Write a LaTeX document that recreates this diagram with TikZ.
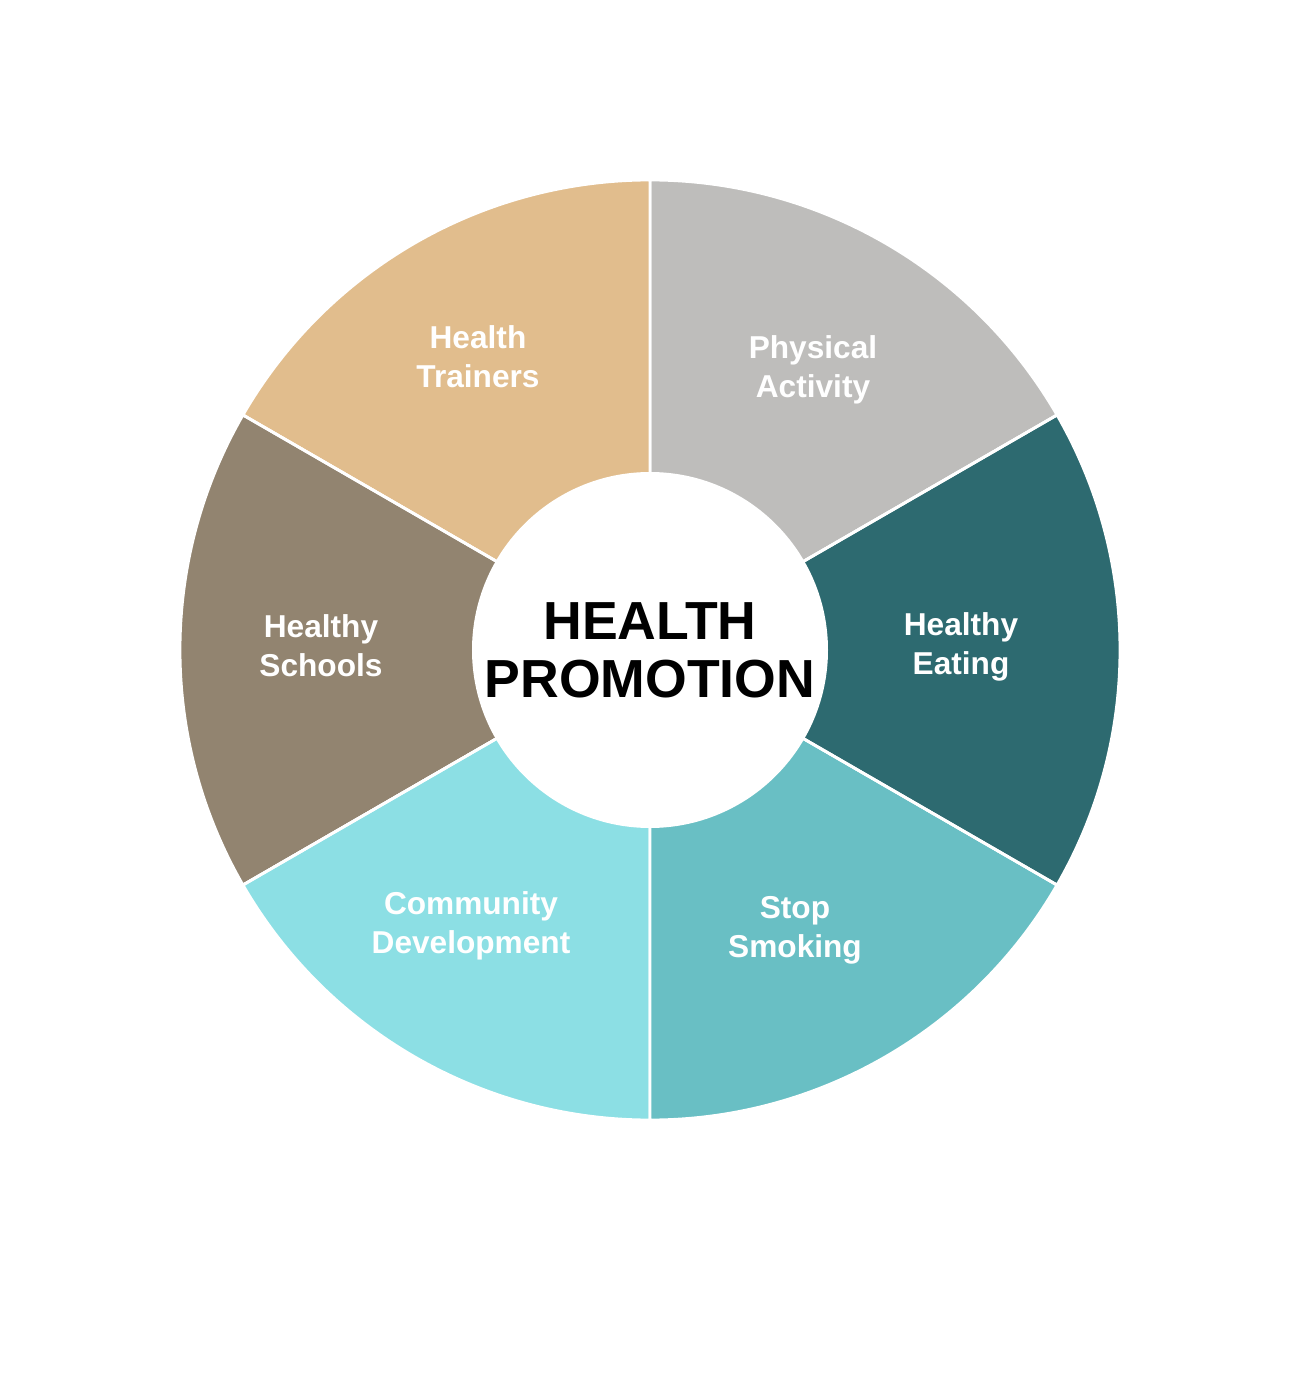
\documentclass[tikz,border=0pt]{standalone}
\usepackage{fontspec}
\setmainfont{Liberation Sans}

\definecolor{trainers}{HTML}{E1BD8D}
\definecolor{physical}{HTML}{BEBDBB}
\definecolor{eating}{HTML}{2D6A70}
\definecolor{smoking}{HTML}{69BFC4}
\definecolor{community}{HTML}{8CDFE4}
\definecolor{schools}{HTML}{928470}

\begin{document}
\begin{tikzpicture}[
		seg/.style = {
			draw = white,
			line width = 1.6pt,
			line join = miter
		},
		lbl/.style = {
			text = white,
			font = \fontsize{18}{22}\selectfont\bfseries,
			align = center,
			inner sep = 0
		},
		hub/.style = {
			circle,
			fill = white,
			inner sep = 0,
			minimum size = 7.12cm,
			font = \fontsize{30.5}{33}\selectfont\bfseries,
			align = center
		}
	]
	\useasboundingbox (-13, -14.8) rectangle (13, 13);

	\coordinate (o) at (0, 0);

	\fill [seg, fill = physical]  (o) -- (30:9.4)  arc (30:90:9.4)   -- cycle;
	\fill [seg, fill = trainers]  (o) -- (90:9.4)  arc (90:150:9.4)  -- cycle;
	\fill [seg, fill = schools]   (o) -- (150:9.4) arc (150:210:9.4) -- cycle;
	\fill [seg, fill = community] (o) -- (210:9.4) arc (210:270:9.4) -- cycle;
	\fill [seg, fill = smoking]   (o) -- (270:9.4) arc (270:330:9.4) -- cycle;
	\fill [seg, fill = eating]    (o) -- (330:9.4) arc (330:390:9.4) -- cycle;

	\draw [seg] (o) -- (30:9.4);
	\draw [seg] (o) -- (90:9.4);
	\draw [seg] (o) -- (150:9.4);
	\draw [seg] (o) -- (210:9.4);
	\draw [seg] (o) -- (270:9.4);
	\draw [seg] (o) -- (330:9.4);

	\node [hub] (center) at (o) {HEALTH\\PROMOTION};

	\node [lbl] (trainers)  at (-3.44,  5.86) {Health\\Trainers};
	\node [lbl] (physical)  at ( 3.26,  5.60) {Physical\\Activity};
	\node [lbl] (eating)    at ( 6.22,  0.06) {Healthy\\Eating};
	\node [lbl] (smoking)   at ( 2.90, -5.60) {Stop\\Smoking};
	\node [lbl] (community) at (-3.58, -5.52) {Community\\Development};
	\node [lbl] (schools)   at (-6.58,  0.08) {Healthy\\Schools};
\end{tikzpicture}
\end{document}
